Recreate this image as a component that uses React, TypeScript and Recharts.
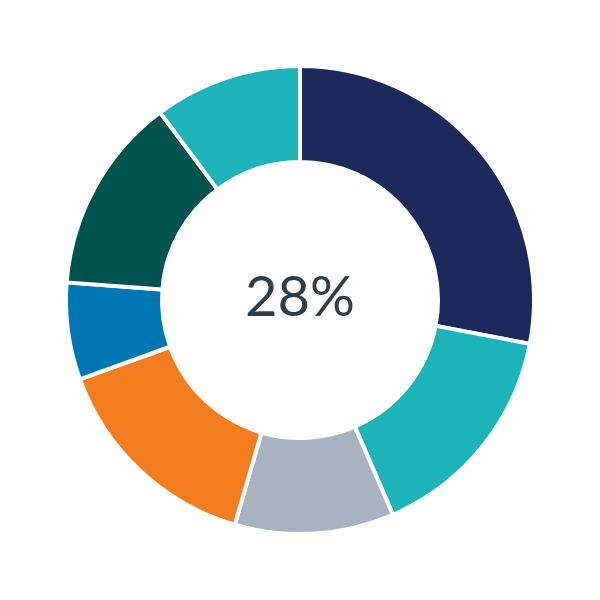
import { Cell, Label, Pie, PieChart } from "recharts";

// shares, clockwise from 12 o'clock
const segments = ["A", "B", "C", "D", "E", "F", "G"];
const shares = [28, 15.5, 11, 15, 6.7, 13.6, 10.2];
const colors = [
  "#1b2a5b",
  "#1cb4b8",
  "#a8b3c1",
  "#f47d20",
  "#0077b5",
  "#00534f",
  "#1cb4b8",
];
const centerLabel = "28%";

const data = segments.map((name, i) => ({ name, value: shares[i] }));

export default function App() {
  return (
    <div style={{ position: "absolute", left: 0, top: 0, background: "#fff" }}>
      <PieChart width={600} height={600} margin={{ top: 0, right: 0, bottom: 0, left: 0 }}>
        <Pie
          data={data}
          dataKey="value"
          nameKey="name"
          cx={300}
          cy={300}
          innerRadius={138}
          outerRadius={234}
          startAngle={90}
          endAngle={-270}
          stroke="#ffffff"
          strokeWidth={4}
          isAnimationActive={false}
        >
          {data.map((d, i) => (
            <Cell key={d.name} fill={colors[i]} />
          ))}
          <Label
            value={centerLabel}
            position="center"
            fill="#333d48"
            style={{ fontSize: 56, fontFamily: "Lato", fontWeight: 400 }}
            dy={-4}
          />
        </Pie>
      </PieChart>
    </div>
  );
}
